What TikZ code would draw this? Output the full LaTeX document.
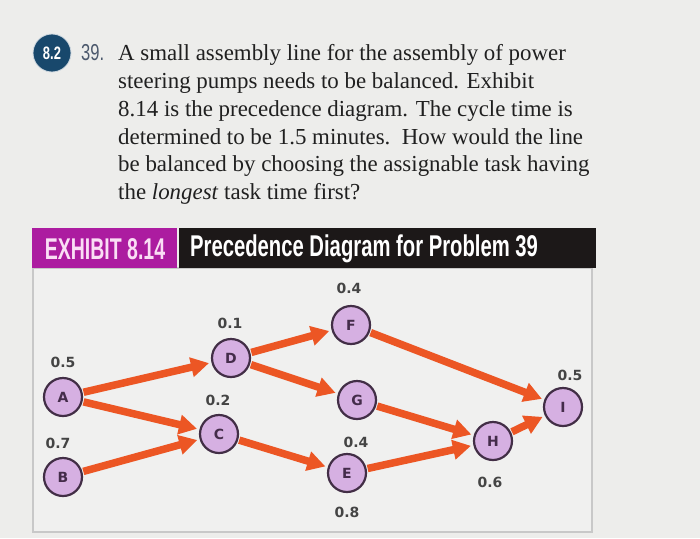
\documentclass[tikz,border=0pt]{standalone}
\usepackage{fontspec}
\setmainfont{Liberation Serif}
\newfontfamily\condfont[FakeStretch=0.65]{Liberation Sans}
\newfontfamily\titlefont[FakeStretch=0.675]{Liberation Sans}
\newfontfamily\numfont[FakeStretch=0.72]{Liberation Sans}
\newfontfamily\lblfont{DejaVu Sans}
\usetikzlibrary{arrows.meta}
\definecolor{bg}{RGB}{237,237,235}
\definecolor{panel}{RGB}{240,240,239}
\definecolor{paneledge}{RGB}{200,200,200}
\definecolor{magbar}{RGB}{172,28,160}
\definecolor{magtext}{RGB}{250,222,245}
\definecolor{blackbar}{RGB}{28,24,24}
\definecolor{badgec}{RGB}{24,72,108}
\definecolor{numc}{RGB}{75,88,108}
\definecolor{bodytext}{RGB}{32,32,32}
\definecolor{arrowc}{RGB}{236,86,36}
\definecolor{nodefill}{RGB}{214,176,226}
\definecolor{nodeedge}{RGB}{66,46,70}
\definecolor{nodetext}{RGB}{68,44,74}
\definecolor{lbltext}{RGB}{68,68,68}
\tikzset{
  task/.style={circle, draw=nodeedge, line width=2.2pt, fill=nodefill, minimum size=38pt, inner sep=0pt,
    font=\lblfont\bfseries\fontsize{14}{16}\selectfont, text=nodetext},
  lbl/.style={font=\lblfont\bfseries\fontsize{14}{16}\selectfont, text=lbltext, inner sep=0pt},
  flow/.style={draw=arrowc, line width=7.5pt, -{Triangle[length=18pt,width=19pt]}, shorten >=2.5pt, shorten <=1pt},
  bodyline/.style={anchor=base west, inner sep=0pt, text=bodytext, font=\fontsize{22.9}{28}\selectfont}
}
\begin{document}
\begin{tikzpicture}[x=1pt, y=-1pt]
\useasboundingbox (0,0) rectangle (700,538);
\fill[bg] (0,0) rectangle (700,538);
% badge and question
\node[circle, fill=badgec, draw=white!80!badgec, line width=0.8pt, minimum size=38pt, inner sep=0pt,
  text=white, font=\numfont\bfseries\fontsize{18}{20}\selectfont] (badge) at (52,53) {8.2};
\node[anchor=base west, inner sep=0pt, text=numc, font=\numfont\fontsize{23}{26}\selectfont] (qnum) at (81,60) {39.};
\node[bodyline] (l1) at (118,60) {A small assembly line for the assembly of power};
\node[bodyline] (l2) at (118,88) {steering pumps needs to be balanced. Exhibit};
\node[bodyline] (l3) at (118,116) {8.14 is the precedence diagram. The cycle time is};
\node[bodyline] (l4) at (118,144) {determined to be 1.5 minutes.\ \ How would the line};
\node[bodyline] (l5) at (118,171) {be balanced by choosing the assignable task having};
\node[bodyline] (l6) at (118,199) {the \textit{longest} task time first?};
% exhibit panel
\filldraw[fill=panel, draw=paneledge, line width=1.2pt] (33,268) rectangle (592,532);
\fill[magbar] (32,228) rectangle (177,268);
\fill[blackbar] (179,228) rectangle (596,268);
\node[text=magtext, font=\condfont\bfseries\fontsize{30}{32}\selectfont, inner sep=0pt] (ex) at (105,249) {EXHIBIT 8.14};
\node[anchor=west, text=white, font=\titlefont\bfseries\fontsize{30}{32}\selectfont, inner sep=0pt] (title) at (190,249) {Precedence Diagram for Problem 39};
% nodes
\node[task] (A) at (63,397) {A};
\node[task] (B) at (63,477) {B};
\node[task] (C) at (219,434) {C};
\node[task] (D) at (231,358) {D};
\node[task] (F) at (351,325) {F};
\node[task] (G) at (357,400) {G};
\node[task] (E) at (347,473) {E};
\node[task] (H) at (493,441) {H};
\node[task] (I) at (563,407) {I};
% time labels
\node[lbl] (tA) at (63,362) {0.5};
\node[lbl] (tB) at (58,443) {0.7};
\node[lbl] (tD) at (230,323) {0.1};
\node[lbl] (tC) at (218,400) {0.2};
\node[lbl] (tF) at (349,288) {0.4};
\node[lbl] (tG) at (356,442) {0.4};
\node[lbl] (tE) at (347,512) {0.8};
\node[lbl] (tH) at (490,482) {0.6};
\node[lbl] (tI) at (570,375) {0.5};
% arrows
\draw[flow] (A) -- (D);
\draw[flow] (A) -- (C);
\draw[flow] (B) -- (C);
\draw[flow] (D) -- (F);
\draw[flow] (D) -- (G);
\draw[flow] (C) -- (E);
\draw[flow] (F) -- (I);
\draw[flow] (G) -- (H);
\draw[flow] (E) -- (H);
\draw[flow] (H) -- (I);
\end{tikzpicture}
\end{document}
